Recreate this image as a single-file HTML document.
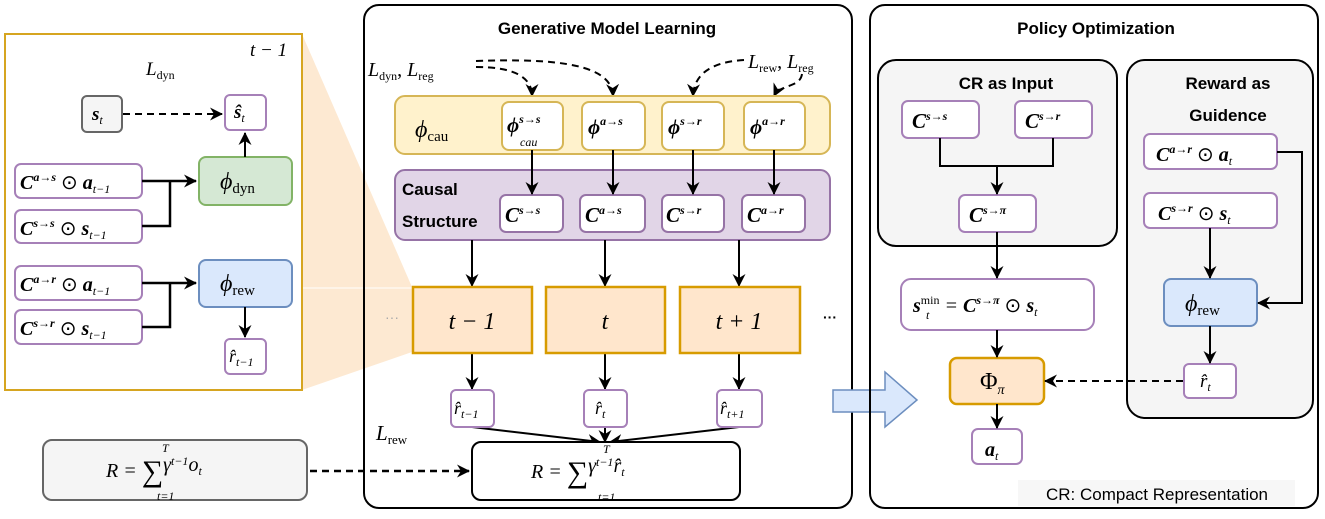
<!DOCTYPE html>
<html><head><meta charset="utf-8"><style>
html,body{margin:0;padding:0;background:#fff;}
svg{display:block;}
.m{font-family:"Liberation Serif",serif;font-style:italic;}
.b{font-family:"Liberation Sans",sans-serif;font-weight:bold;}
.C{font-family:"Liberation Serif",serif;font-style:italic;font-weight:bold;}
</style></head><body>
<svg width="1325" height="519" viewBox="0 0 1325 519" xmlns="http://www.w3.org/2000/svg">
<defs>
<marker id="ar" markerWidth="13" markerHeight="13" refX="12" refY="6.5" orient="auto" markerUnits="userSpaceOnUse"><path d="M0,0 L13,6.5 L0,13 L4,6.5 z" fill="#000"/></marker>
</defs>
<!-- fan -->
<polygon points="302,34 412,287 412,352 302,390" fill="#fde9d2"/>
<line x1="302" y1="288" x2="412" y2="288" stroke="#fff" stroke-width="1"/>
<!-- left box -->
<rect x="5" y="34" width="297" height="356" fill="#fff" stroke="#d6a520" stroke-width="2"/>
<text x="250" y="56" class="m" font-size="19">t − 1</text>
<rect x="82" y="96" width="40" height="36" rx="5" fill="#f5f5f5" stroke="#666" stroke-width="2"/>
<text x="92" y="120" class="C" font-size="19">s<tspan font-size="12" font-weight="normal" dy="4">t</tspan></text>
<rect x="225" y="95" width="41" height="35" rx="5" fill="#fff" stroke="#a680b8" stroke-width="2"/>
<text x="234" y="118" class="C" font-size="19">ŝ<tspan font-size="12" font-weight="normal" dy="4">t</tspan></text>
<text x="146" y="75" class="m" font-size="19">L<tspan font-size="12" font-style="normal" dy="4">dyn</tspan></text>
<line x1="123" y1="114" x2="222" y2="114" stroke="#000" stroke-width="2" stroke-dasharray="7,5" marker-end="url(#ar)"/>
<rect x="199" y="157" width="93" height="48" rx="7" fill="#d5e8d4" stroke="#82b366" stroke-width="2"/>
<text x="220" y="189" class="m" font-size="24">ϕ<tspan font-size="15" font-style="normal" dy="4">dyn</tspan></text>
<line x1="245" y1="157" x2="245" y2="133" stroke="#000" stroke-width="2" marker-end="url(#ar)"/>
<rect x="15" y="164" width="127" height="34" rx="6" fill="#fff" stroke="#a680b8" stroke-width="2"/>
<text x="20" y="189" class="C" font-size="20">C<tspan font-size="12" dy="-8">a→s</tspan><tspan font-weight="normal" font-style="normal" dy="8"> ⊙ </tspan>a<tspan font-size="12" font-weight="normal" dy="4">t−1</tspan></text>
<rect x="15" y="210" width="127" height="33" rx="6" fill="#fff" stroke="#a680b8" stroke-width="2"/>
<text x="20" y="235" class="C" font-size="20">C<tspan font-size="12" dy="-8">s→s</tspan><tspan font-weight="normal" font-style="normal" dy="8"> ⊙ </tspan>s<tspan font-size="12" font-weight="normal" dy="4">t−1</tspan></text>
<line x1="142" y1="181" x2="196" y2="181" stroke="#000" stroke-width="2.5" marker-end="url(#ar)"/>
<polyline points="142,226 170,226 170,181" fill="none" stroke="#000" stroke-width="2.5"/>
<rect x="199" y="260" width="93" height="47" rx="7" fill="#dae8fc" stroke="#6c8ebf" stroke-width="2"/>
<text x="220" y="291" class="m" font-size="24">ϕ<tspan font-size="15" font-style="normal" dy="4">rew</tspan></text>
<rect x="15" y="266" width="127" height="34" rx="6" fill="#fff" stroke="#a680b8" stroke-width="2"/>
<text x="20" y="291" class="C" font-size="20">C<tspan font-size="12" dy="-8">a→r</tspan><tspan font-weight="normal" font-style="normal" dy="8"> ⊙ </tspan>a<tspan font-size="12" font-weight="normal" dy="4">t−1</tspan></text>
<rect x="15" y="310" width="127" height="34" rx="6" fill="#fff" stroke="#a680b8" stroke-width="2"/>
<text x="20" y="335" class="C" font-size="20">C<tspan font-size="12" dy="-8">s→r</tspan><tspan font-weight="normal" font-style="normal" dy="8"> ⊙ </tspan>s<tspan font-size="12" font-weight="normal" dy="4">t−1</tspan></text>
<line x1="142" y1="283" x2="196" y2="283" stroke="#000" stroke-width="2.5" marker-end="url(#ar)"/>
<polyline points="142,327 170,327 170,283" fill="none" stroke="#000" stroke-width="2.5"/>
<line x1="245" y1="307" x2="245" y2="337" stroke="#000" stroke-width="2" marker-end="url(#ar)"/>
<rect x="225" y="339" width="41" height="35" rx="5" fill="#fff" stroke="#a680b8" stroke-width="2"/>
<text x="229" y="362" class="m" font-size="18">r̂<tspan font-size="12" dy="4">t−1</tspan></text>

<!-- middle panel -->
<rect x="364" y="5" width="488" height="503" rx="15" fill="none" stroke="#000" stroke-width="2"/>
<text x="607" y="34" class="b" font-size="17" text-anchor="middle">Generative Model Learning</text>
<text x="368" y="76" class="m" font-size="20">L<tspan font-size="12" font-style="normal" dy="4">dyn</tspan><tspan dy="-4" font-style="normal">, </tspan>L<tspan font-size="12" font-style="normal" dy="4">reg</tspan></text>
<text x="748" y="68" class="m" font-size="20">L<tspan font-size="12" font-style="normal" dy="4">rew</tspan><tspan dy="-4" font-style="normal">, </tspan>L<tspan font-size="12" font-style="normal" dy="4">reg</tspan></text>
<path d="M476,67 C510,67 532,75 532,96" fill="none" stroke="#000" stroke-width="2" stroke-dasharray="7,5" marker-end="url(#ar)"/>
<path d="M476,61 C560,58 612,65 613,96" fill="none" stroke="#000" stroke-width="2" stroke-dasharray="7,5" marker-end="url(#ar)"/>
<path d="M744,60 C710,62 694,75 693,96" fill="none" stroke="#000" stroke-width="2" stroke-dasharray="7,5" marker-end="url(#ar)"/>
<path d="M802,74 C800,88 780,84 774,96" fill="none" stroke="#000" stroke-width="2" stroke-dasharray="7,5" marker-end="url(#ar)"/>
<rect x="395" y="96" width="435" height="58" rx="10" fill="#fff2cc" stroke="#d6b656" stroke-width="2"/>
<text x="415" y="137" class="m" font-size="24">ϕ<tspan font-size="15" font-style="normal" dy="4">cau</tspan></text>
<g stroke="#d6b656" stroke-width="2" fill="#fff">
<rect x="502" y="102" width="61" height="48" rx="7"/><rect x="582" y="102" width="63" height="48" rx="7"/>
<rect x="662" y="102" width="62" height="48" rx="7"/><rect x="744" y="102" width="61" height="48" rx="7"/></g>
<text x="507" y="132" class="C" font-size="21">ϕ<tspan font-size="12" dy="-9">s→s</tspan></text><text x="520" y="146" class="m" font-size="12" font-style="normal">cau</text>
<text x="588" y="134" class="C" font-size="21">ϕ<tspan font-size="12" dy="-9">a→s</tspan></text>
<text x="668" y="134" class="C" font-size="21">ϕ<tspan font-size="12" dy="-9">s→r</tspan></text>
<text x="750" y="134" class="C" font-size="21">ϕ<tspan font-size="12" dy="-9">a→r</tspan></text>
<rect x="395" y="170" width="435" height="70" rx="10" fill="#e1d5e7" stroke="#9673a6" stroke-width="2"/>
<text x="402" y="195" class="b" font-size="17">Causal</text>
<text x="402" y="227" class="b" font-size="17">Structure</text>
<g stroke="#9673a6" stroke-width="2" fill="#fff">
<rect x="500" y="195" width="63" height="37" rx="6"/><rect x="580" y="195" width="65" height="37" rx="6"/>
<rect x="662" y="195" width="62" height="37" rx="6"/><rect x="742" y="195" width="63" height="37" rx="6"/></g>
<text x="505" y="222" class="C" font-size="21">C<tspan font-size="12" dy="-8">s→s</tspan></text>
<text x="585" y="222" class="C" font-size="21">C<tspan font-size="12" dy="-8">a→s</tspan></text>
<text x="666" y="222" class="C" font-size="21">C<tspan font-size="12" dy="-8">s→r</tspan></text>
<text x="747" y="222" class="C" font-size="21">C<tspan font-size="12" dy="-8">a→r</tspan></text>
<g stroke="#000" stroke-width="2" marker-end="url(#ar)">
<line x1="532" y1="150" x2="532" y2="194"/><line x1="613" y1="150" x2="613" y2="194"/>
<line x1="693" y1="150" x2="693" y2="194"/><line x1="774" y1="150" x2="774" y2="194"/>
<line x1="472" y1="240" x2="472" y2="286"/><line x1="605" y1="240" x2="605" y2="286"/><line x1="739" y1="240" x2="739" y2="286"/>
<line x1="472" y1="353" x2="472" y2="389"/><line x1="605" y1="353" x2="605" y2="389"/><line x1="739" y1="353" x2="739" y2="389"/>
<line x1="472" y1="427" x2="600" y2="442"/><line x1="605" y1="427" x2="605" y2="442"/><line x1="739" y1="427" x2="610" y2="442"/>
</g>
<g stroke="#d79b00" stroke-width="2.5" fill="#ffe6cc">
<rect x="413" y="287" width="119" height="66"/><rect x="546" y="287" width="119" height="66"/><rect x="680" y="287" width="120" height="66"/></g>
<text x="472" y="329" class="m" font-size="24" text-anchor="middle">t − 1</text>
<text x="605" y="329" class="m" font-size="24" text-anchor="middle">t</text>
<text x="739" y="329" class="m" font-size="24" text-anchor="middle">t + 1</text>
<text x="392" y="322" font-family="Liberation Sans" font-size="14" fill="#aaa" text-anchor="middle">···</text>
<text x="830" y="322" font-family="Liberation Sans" font-size="14" font-weight="bold" text-anchor="middle">···</text>
<g stroke="#a680b8" stroke-width="2" fill="#fff">
<rect x="451" y="390" width="43" height="37" rx="5"/><rect x="584" y="390" width="43" height="37" rx="5"/><rect x="717" y="390" width="45" height="37" rx="5"/></g>
<text x="454" y="414" class="m" font-size="18">r̂<tspan font-size="12" dy="4">t−1</tspan></text>
<text x="595" y="414" class="m" font-size="18">r̂<tspan font-size="12" dy="4">t</tspan></text>
<text x="720" y="414" class="m" font-size="18">r̂<tspan font-size="12" dy="4">t+1</tspan></text>
<text x="376" y="440" class="m" font-size="21">L<tspan font-size="13" font-style="normal" dy="4">rew</tspan></text>
<rect x="472" y="442" width="268" height="58" rx="9" fill="#fff" stroke="#000" stroke-width="2"/>
<text x="531" y="478" class="m" font-size="20">R = <tspan font-style="normal" font-size="30" dy="4">∑</tspan><tspan dy="-10">γ</tspan><tspan font-size="12" dy="-6">t−1</tspan><tspan dy="6">r̂</tspan><tspan font-size="12" dy="4">t</tspan></text>
<text x="603" y="453" class="m" font-size="12">T</text><text x="598" y="501" class="m" font-size="12">t=1</text>
<rect x="43" y="440" width="264" height="60" rx="9" fill="#f5f5f5" stroke="#666" stroke-width="2"/>
<text x="106" y="477" class="m" font-size="20">R = <tspan font-style="normal" font-size="30" dy="4">∑</tspan><tspan dy="-10">γ</tspan><tspan font-size="12" dy="-6">t−1</tspan><tspan dy="6">o</tspan><tspan font-size="12" dy="4">t</tspan></text>
<text x="162" y="452" class="m" font-size="12">T</text><text x="157" y="500" class="m" font-size="12">t=1</text>
<line x1="310" y1="471" x2="469" y2="471" stroke="#000" stroke-width="2.5" stroke-dasharray="7,5" marker-end="url(#ar)"/>

<!-- big arrow -->
<polygon points="833,390 885,390 885,372 917,400 885,427 885,412 833,412" fill="#dae8fc" stroke="#6c8ebf" stroke-width="1.5"/>

<!-- right panel -->
<rect x="870" y="5" width="448" height="503" rx="15" fill="none" stroke="#000" stroke-width="2"/>
<text x="1096" y="34" class="b" font-size="17" text-anchor="middle">Policy Optimization</text>
<rect x="878" y="60" width="239" height="186" rx="18" fill="#f5f5f5" stroke="#000" stroke-width="2"/>
<text x="1006" y="89" class="b" font-size="17" text-anchor="middle">CR as Input</text>
<rect x="1127" y="60" width="186" height="358" rx="18" fill="#f5f5f5" stroke="#000" stroke-width="2"/>
<text x="1228" y="89" class="b" font-size="17" text-anchor="middle">Reward as</text>
<text x="1228" y="121" class="b" font-size="17" text-anchor="middle">Guidence</text>
<g stroke="#a680b8" stroke-width="2" fill="#fff">
<rect x="902" y="101" width="77" height="37" rx="6"/><rect x="1015" y="101" width="77" height="37" rx="6"/>
<rect x="959" y="195" width="77" height="37" rx="6"/>
<rect x="901" y="279" width="193" height="51" rx="10"/>
<rect x="972" y="429" width="50" height="35" rx="6"/>
<rect x="1144" y="134" width="133" height="35" rx="6"/><rect x="1144" y="193" width="133" height="35" rx="6"/>
<rect x="1184" y="364" width="52" height="34" rx="5"/></g>
<text x="912" y="128" class="C" font-size="21">C<tspan font-size="12" dy="-8">s→s</tspan></text>
<text x="1025" y="128" class="C" font-size="21">C<tspan font-size="12" dy="-8">s→r</tspan></text>
<text x="969" y="222" class="C" font-size="21">C<tspan font-size="12" dy="-8">s→π</tspan></text>
<text x="913" y="312" class="C" font-size="20">s<tspan font-size="12" font-weight="normal" font-style="normal" dy="-8">min</tspan><tspan font-weight="normal" dy="8"> = </tspan>C<tspan font-size="12" dy="-8">s→π</tspan><tspan font-weight="normal" font-style="normal" dy="8"> ⊙ </tspan>s<tspan font-size="12" font-weight="normal" dy="4">t</tspan></text>
<text x="926" y="319" class="m" font-size="12">t</text>
<text x="985" y="456" class="C" font-size="20">a<tspan font-size="12" font-weight="normal" dy="4">t</tspan></text>
<text x="1156" y="161" class="C" font-size="20">C<tspan font-size="12" dy="-8">a→r</tspan><tspan font-weight="normal" font-style="normal" dy="8"> ⊙ </tspan>a<tspan font-size="12" font-weight="normal" dy="4">t</tspan></text>
<text x="1158" y="220" class="C" font-size="20">C<tspan font-size="12" dy="-8">s→r</tspan><tspan font-weight="normal" font-style="normal" dy="8"> ⊙ </tspan>s<tspan font-size="12" font-weight="normal" dy="4">t</tspan></text>
<text x="1200" y="387" class="m" font-size="19">r̂<tspan font-size="12" dy="4">t</tspan></text>
<rect x="950" y="358" width="94" height="46" rx="7" fill="#ffe6cc" stroke="#d79b00" stroke-width="2.5"/>
<text x="980" y="389" font-family="Liberation Serif" font-size="24">Φ<tspan font-size="14" font-style="italic" dy="5">π</tspan></text>
<rect x="1164" y="279" width="93" height="47" rx="7" fill="#dae8fc" stroke="#6c8ebf" stroke-width="2"/>
<text x="1185" y="311" class="m" font-size="24">ϕ<tspan font-size="15" font-style="normal" dy="4">rew</tspan></text>
<g stroke="#000" stroke-width="2" fill="none">
<polyline points="940,138 940,166 1053,166 1053,138"/>
<line x1="997" y1="166" x2="997" y2="194" marker-end="url(#ar)"/>
<line x1="997" y1="232" x2="997" y2="278" marker-end="url(#ar)"/>
<line x1="997" y1="330" x2="997" y2="357" marker-end="url(#ar)"/>
<line x1="997" y1="404" x2="997" y2="428" marker-end="url(#ar)"/>
<line x1="1210" y1="228" x2="1210" y2="278" marker-end="url(#ar)"/>
<polyline points="1277,152 1302,152 1302,303 1258,303" marker-end="url(#ar)"/>
<line x1="1210" y1="326" x2="1210" y2="363" marker-end="url(#ar)"/>
<line x1="1183" y1="381" x2="1045" y2="381" stroke-dasharray="7,5" marker-end="url(#ar)"/>
</g>
<rect x="1018" y="480" width="277" height="26" fill="#f7f7f7"/>
<text x="1157" y="500" font-family="Liberation Sans" font-size="17" text-anchor="middle">CR: Compact Representation</text>
</svg>
</body></html>
